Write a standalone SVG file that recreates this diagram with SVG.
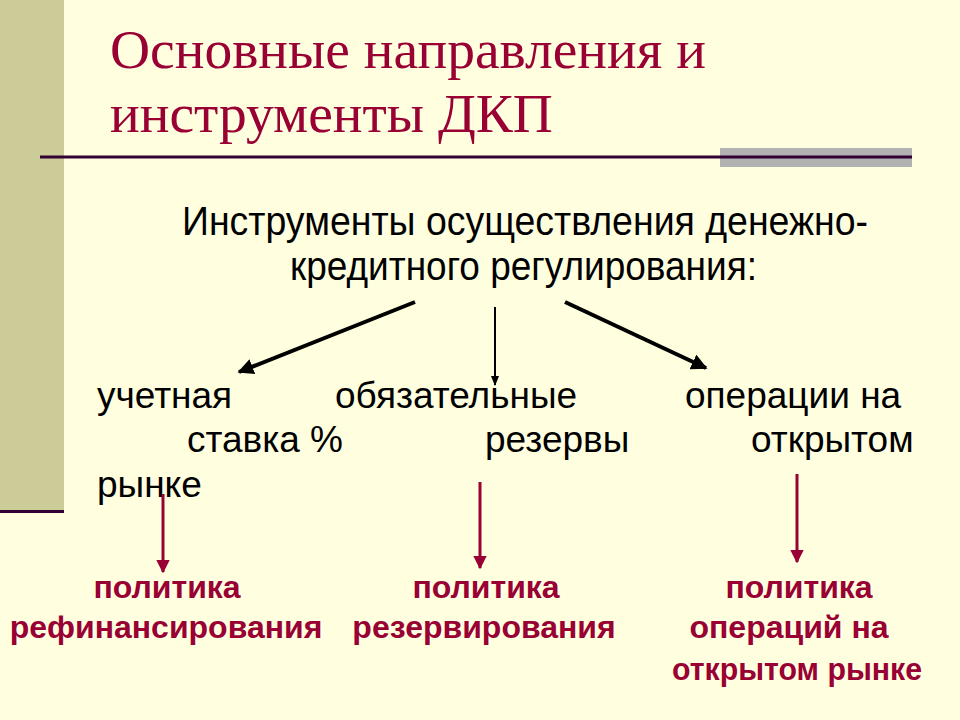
<svg xmlns="http://www.w3.org/2000/svg" width="960" height="720" viewBox="0 0 960 720">
<style>
.title{font-family:"Liberation Serif","Times New Roman",serif;font-size:55.5px;fill:#990033}
.sub{font-family:"Liberation Sans",Arial,sans-serif;font-size:40px;fill:#000}
.body{font-family:"Liberation Sans",Arial,sans-serif;font-size:37px;fill:#000}
.red{font-family:"Liberation Sans",Arial,sans-serif;font-size:32px;font-weight:bold;fill:#990033;text-anchor:middle}
.blk{stroke:#000;fill:none}
.rl{stroke:#990033;stroke-width:3;fill:none}
</style>
<defs>
<marker id="ab" viewBox="0 0 10 10" refX="9" refY="5" markerWidth="4" markerHeight="4" orient="auto" markerUnits="strokeWidth"><path d="M0,0 L10,5 L0,10 z" fill="#000"/></marker>
<marker id="ab2" viewBox="0 0 10 10" refX="9" refY="5" markerWidth="5" markerHeight="5" orient="auto" markerUnits="strokeWidth"><path d="M0,1 L10,5 L0,9 z" fill="#000"/></marker>
<marker id="ar" viewBox="0 0 10 10" refX="9" refY="5" markerWidth="4.5" markerHeight="4.5" orient="auto" markerUnits="strokeWidth"><path d="M0,0 L10,5 L0,10 z" fill="#990033"/></marker>
</defs>
<rect width="960" height="720" fill="#FFFFE0"/>
<rect x="0" y="0" width="64" height="511" fill="#CCCC99"/>
<rect x="0" y="510" width="64" height="3" fill="#330033"/>
<rect x="720" y="148" width="192" height="19" fill="#B2B2B2"/>
<rect x="40" y="155.5" width="872" height="3" fill="#330033"/>
<g id="title">
<text class="title" x="110" y="68">Основные направления и</text>
<text class="title" x="110" y="132">инструменты ДКП</text>
</g>
<g id="root">
<text class="sub" x="182" y="235" textLength="686" lengthAdjust="spacingAndGlyphs">Инструменты осуществления денежно-</text>
<text class="sub" x="290" y="280" textLength="467" lengthAdjust="spacingAndGlyphs">кредитного регулирования:</text>
</g>
<g id="instruments">
<text class="body" x="97" y="408">учетная</text>
<text class="body" x="335" y="408">обязательные</text>
<text class="body" x="685" y="408">операции на</text>
<text class="body" x="187" y="452">ставка %</text>
<text class="body" x="485" y="452">резервы</text>
<text class="body" x="751" y="452">открытом</text>
<text class="body" x="97" y="497">рынке</text>
</g>
<g id="policy-refin">
<text class="red" x="167" y="598">политика</text>
<text class="red" x="166" y="638">рефинансирования</text>
</g>
<g id="policy-reserve">
<text class="red" x="486" y="598">политика</text>
<text class="red" x="484" y="638">резервирования</text>
</g>
<g id="policy-open">
<text class="red" x="799" y="598">политика</text>
<text class="red" x="789" y="638">операций на</text>
<text class="red" x="797" y="680" textLength="250" lengthAdjust="spacingAndGlyphs">открытом рынке</text>
</g>
<g id="connectors">
<line class="blk" x1="415" y1="302" x2="239" y2="372" stroke-width="4" marker-end="url(#ab)"/>
<line class="blk" x1="495" y1="307" x2="495" y2="385" stroke-width="2" marker-end="url(#ab2)"/>
<line class="blk" x1="565" y1="302" x2="706" y2="368" stroke-width="4" marker-end="url(#ab)"/>
<line class="rl" x1="163" y1="494" x2="163" y2="572" marker-end="url(#ar)"/>
<line class="rl" x1="480" y1="482" x2="480" y2="568" marker-end="url(#ar)"/>
<line class="rl" x1="797" y1="474" x2="797" y2="562" marker-end="url(#ar)"/>
</g>
</svg>
